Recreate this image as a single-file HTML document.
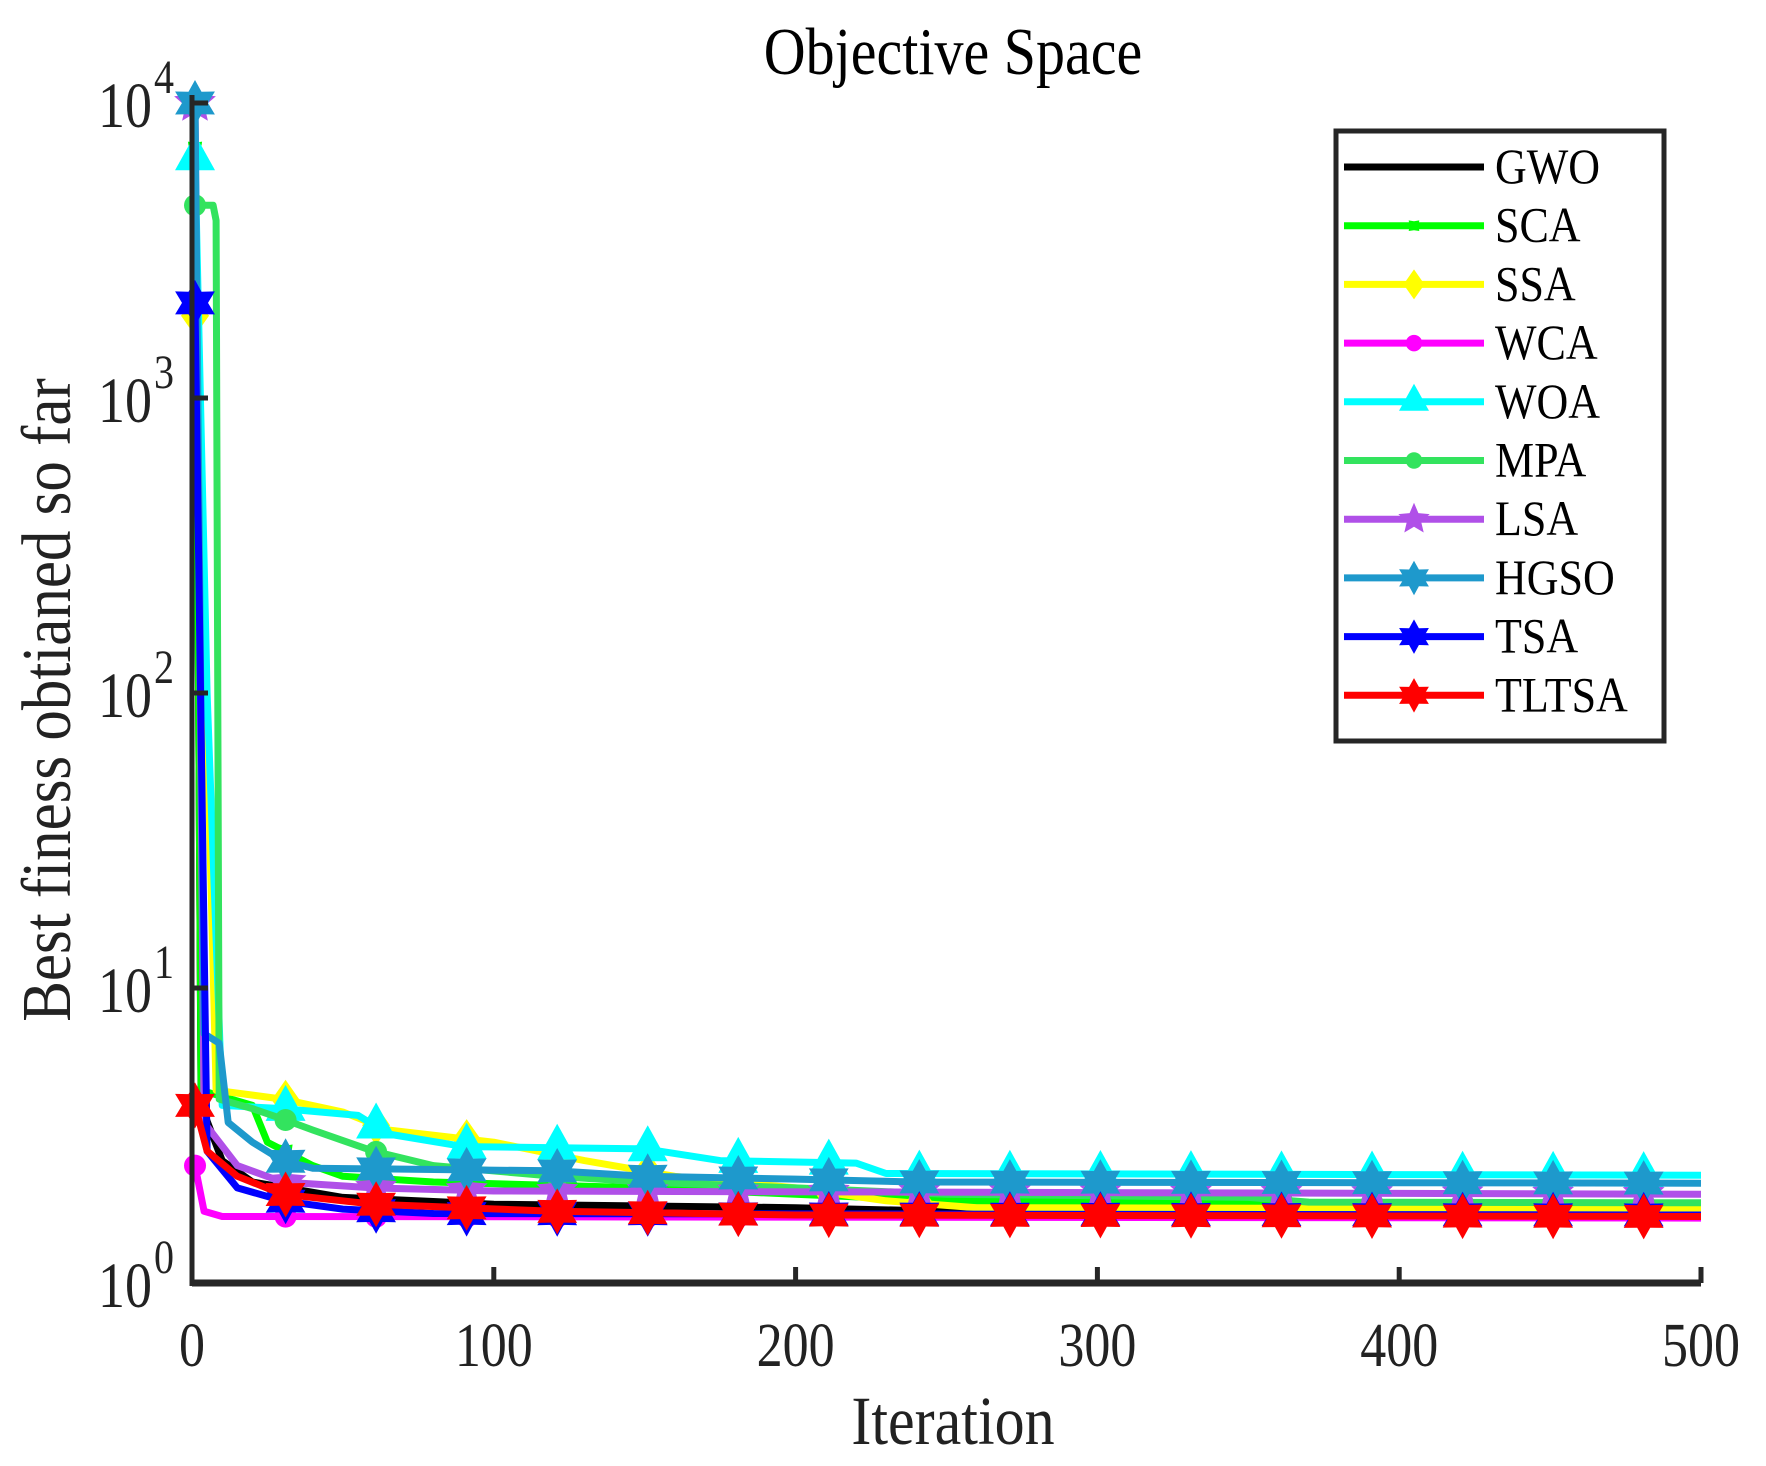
<!DOCTYPE html>
<html><head><meta charset="utf-8"><style>
html,body{margin:0;padding:0;background:#fff;}
svg{display:block;font-family:"Liberation Serif",serif;}
</style></head><body>
<svg id="chart" width="1766" height="1466" viewBox="0 0 1766 1466" xmlns="http://www.w3.org/2000/svg">
<text transform="translate(953,74) scale(1,1.15)" font-size="58" text-anchor="middle" fill="#000">Objective Space</text>
<text transform="translate(70,700) rotate(-90) scale(1,1.15)" font-size="61" text-anchor="middle" fill="#222">Best finess obtianed so far</text>
<text transform="translate(953,1444) scale(1,1.15)" font-size="60" text-anchor="middle" fill="#222">Iteration</text>
<g id="plot"></g>
<g id="axes"></g>
<g id="legend"></g>
</svg>
<script>
const names = ["GWO","SCA","SSA","WCA","WOA","MPA","LSA","HGSO","TSA","TLTSA"];
const colors = ["#000000","#00ff00","#ffff00","#ff00ff","#00ffff","#33e35e","#b050e8","#1e99cc","#0000ff","#ff0000"];
const markers = ["none","asterisk","diamond","circle","triangle","circle","star","hexagram","hexagram","hexagram"];
const xTicks = [0,100,200,300,400,500];
const yTickExp = [0,1,2,3,4];
const itGWO = [0,1,3,10,20,50,100,200,250,500];
const vGWO  = [10000,9000,4.0,2.6,2.2,1.95,1.85,1.8,1.75,1.75];
const itSCA = [0,1,3,20,25,40,50,80,150,200,250,500];
const vSCA  = [7000,7000,4.5,4.0,3.0,2.5,2.3,2.2,2.1,2.0,1.9,1.85];
const itSSA = [0,1,4,8,30,50,65,100,130,160,200,230,260,500];
const vSSA  = [1900,1900,200,4.5,4.2,3.8,3.3,3.0,2.6,2.3,2.1,1.9,1.8,1.78];
const itWCA = [0,1,4,10,500];
const vWCA  = [2.5,2.5,1.75,1.68,1.66];
const itWOA = [0,1,5,10,30,55,65,90,150,175,220,230,500];
const vWOA  = [6500,6500,100,4.0,3.9,3.7,3.2,2.9,2.85,2.6,2.55,2.35,2.32];
const itMPA = [0,1,7,8,9,20,30,40,60,80,120,150,200,250,350,370,500];
const vMPA  = [4500,4500,4500,4000,4.2,3.9,3.6,3.3,2.8,2.5,2.3,2.2,2.1,2.0,1.95,1.88,1.87];
const itLSA = [0,1,4,15,30,60,100,500];
const vLSA  = [10000,10000,3.5,2.5,2.2,2.1,2.05,2.0];
const itHGSO = [0,1,4,9,12,20,30,40,120,150,200,240,500];
const vHGSO  = [10000,10000,7,6.5,3.5,3.0,2.6,2.45,2.4,2.3,2.25,2.2,2.18];
const itTSA = [0,1,5,15,30,50,80,500];
const vTSA  = [2100,2100,2.8,2.1,1.9,1.78,1.72,1.7];
const itTLTSA = [0,1,5,15,30,60,120,200,500];
const vTLTSA  = [4.0,4.0,2.8,2.3,2.0,1.85,1.75,1.7,1.68];
const allIt = [itGWO,itSCA,itSSA,itWCA,itWOA,itMPA,itLSA,itHGSO,itTSA,itTLTSA];
const allV  = [vGWO,vSCA,vSSA,vWCA,vWOA,vMPA,vLSA,vHGSO,vTSA,vTLTSA];

const X0=192, X1=1701, YB=1283, YT=103;
const xs = it => X0 + (it/500)*(X1-X0);
const ys = v => YB - (Math.log10(v)/4)*(YB-YT);
const NS="http://www.w3.org/2000/svg";
function mk(tag, attrs, parent){const e=document.createElementNS(NS,tag);for(const k in attrs)e.setAttribute(k,attrs[k]);parent.appendChild(e);return e;}
function interp(its, vs, t){
  for(let i=0;i<its.length-1;i++){ if(t>=its[i]&&t<=its[i+1]){const f=(t-its[i])/(its[i+1]-its[i]||1);return Math.pow(10,Math.log10(vs[i])+f*(Math.log10(vs[i+1])-Math.log10(vs[i])));} }
  return vs[vs.length-1];
}
function starPts(cx,cy,n,ro,ri,rot){let p=[];for(let i=0;i<2*n;i++){const r=i%2?ri:ro;const a=rot+i*Math.PI/n;p.push((cx+r*Math.sin(a)).toFixed(1)+","+(cy-r*Math.cos(a)).toFixed(1));}return p.join(" ");}
function drawMarker(type,cx,cy,col,parent,s){
  s=s||1;let e=null;
  if(type==="circle") e=mk("circle",{cx,cy,r:11*s,fill:col},parent);
  else if(type==="diamond") e=mk("polygon",{points:`${cx},${cy-20*s} ${cx+14*s},${cy} ${cx},${cy+20*s} ${cx-14*s},${cy}`,fill:col},parent);
  else if(type==="triangle") e=mk("polygon",{points:`${cx},${cy-24*s} ${cx+20*s},${cy+12*s} ${cx-20*s},${cy+12*s}`,fill:col},parent);
  else if(type==="star") e=mk("polygon",{points:starPts(cx,cy,5,22*s,10*s,0),fill:col},parent);
  else if(type==="hexagram") e=mk("polygon",{points:starPts(cx,cy,6,23*s,13*s,0),fill:col},parent);
  else if(type==="asterisk") e=mk("polygon",{points:starPts(cx,cy,4,10*s,6*s,Math.PI/4),fill:col},parent);
  return e;
}
const plot=document.getElementById("plot");
for(let s=0;s<names.length;s++){
  const g=mk("g",{},plot);
  
  
  const its=allIt[s], vs=allV[s];
  let d="";
  for(let i=0;i<its.length;i++){d+=(i?"L":"M")+xs(its[i]).toFixed(1)+","+ys(vs[i]).toFixed(1);}
  const p=mk("path",{d,fill:"none",stroke:colors[s],"stroke-width":7,"stroke-linejoin":"round"},g);
  
  
  if(markers[s]!=="none"){
    for(let t=1;t<=500;t+=30){
      const m=drawMarker(markers[s],xs(t),ys(interp(its,vs,t)),colors[s],g,1);
      
      
    }
  }
}
const axes=document.getElementById("axes");
mk("line",{x1:X0,y1:YB,x2:X1,y2:YB,stroke:"#262626","stroke-width":7},axes);
mk("line",{x1:X0,y1:YB+3,x2:X0,y2:95,stroke:"#262626","stroke-width":5},axes);
for(const t of xTicks){
  const x=xs(t);
  const tk=mk("line",{x1:x,y1:YB,x2:x,y2:YB-16,stroke:"#262626","stroke-width":5},axes);
  
  
  const lb=mk("text",{transform:`translate(${x},1366) scale(1,1.2)`,"font-size":52,"text-anchor":"middle",fill:"#222"},axes);
  lb.textContent=t;
  
  
}
for(const e of yTickExp){
  const y=ys(Math.pow(10,e));
  const tk=mk("line",{x1:X0,y1:y,x2:X0+16,y2:y,stroke:"#262626","stroke-width":5},axes);
  
  
  const lb=mk("text",{transform:`translate(152,${y+24}) scale(1,1.2)`,"font-size":54,"text-anchor":"end",fill:"#222"},axes);
  lb.textContent="10";
  
  
  const sup=mk("text",{transform:`translate(154,${y-10}) scale(1,1.2)`,"font-size":40,"text-anchor":"start",fill:"#222"},axes);
  sup.textContent=String(e);
  
  
}
const leg=document.getElementById("legend");
const box=mk("rect",{x:1336,y:131,width:328,height:610,fill:"#fff",stroke:"#262626","stroke-width":5},leg);


for(let s=0;s<names.length;s++){
  const y=167+s*58.7;
  const g=mk("g",{},leg);
  
  
  mk("line",{x1:1344,y1:y,x2:1484,y2:y,stroke:colors[s],"stroke-width":7},g);
  if(markers[s]!=="none") drawMarker(markers[s],1414,y,colors[s],g,0.75);
  const t=mk("text",{transform:`translate(1495,${y+16}) scale(1,1.12)`,"font-size":44,fill:"#000"},g);
  t.textContent=names[s];
}
</script>
</body></html>
